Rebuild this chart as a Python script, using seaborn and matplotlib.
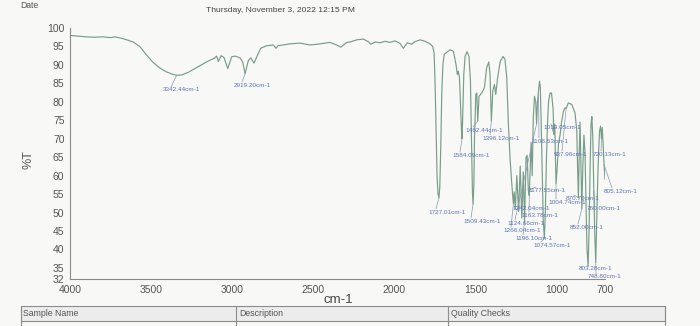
import matplotlib
matplotlib.use("Agg")
import matplotlib.pyplot as plt
from matplotlib.patches import Rectangle
from matplotlib.lines import Line2D
import pandas as pd
import seaborn as sns

# ---------------- data ----------------
wavenumber = [
    4000, 3950, 3900, 3850, 3800, 3750, 3720, 3690, 3650, 3610, 3570, 3530,
    3490, 3450, 3410, 3370, 3342, 3310, 3270, 3230, 3190, 3150, 3110, 3095,
    3085, 3068, 3050, 3027, 3003, 2982, 2951, 2935, 2920, 2900, 2885, 2865,
    2845, 2824, 2787, 2746, 2729, 2717, 2643, 2581, 2519, 2458, 2396, 2355,
    2330, 2293, 2273, 2231, 2191, 2160, 2145, 2118, 2088, 2057, 2026, 1995,
    1964, 1944, 1919, 1893, 1872, 1841, 1810, 1779, 1763, 1754, 1748, 1742,
    1736, 1730, 1724, 1719, 1713, 1707, 1700, 1692, 1682, 1656, 1635, 1619,
    1611, 1605, 1598, 1592, 1585, 1582, 1579, 1574, 1571, 1563, 1551, 1539,
    1530, 1524, 1518, 1514, 1509, 1505, 1497, 1491, 1485, 1477, 1460, 1444,
    1430, 1417, 1409, 1401, 1392, 1382, 1374, 1362, 1346, 1329, 1317, 1306,
    1296, 1286, 1275, 1265, 1260, 1253, 1244, 1233, 1223, 1213, 1204, 1196,
    1187, 1180, 1173, 1167, 1161, 1156, 1149, 1142, 1135, 1127, 1122, 1116,
    1110, 1104, 1099, 1094, 1087, 1081, 1074, 1068, 1061, 1054, 1048, 1039,
    1030, 1020, 1016, 1010, 1002, 995, 987, 977, 967, 956, 946, 940, 926,
    905, 885, 874, 869, 864, 860, 854, 849, 843, 837, 830, 823, 817, 811,
    804, 798, 792, 786, 781, 775, 769, 763, 757, 751, 743, 734, 727, 722,
    717, 712, 706, 700,
]
transmittance = [
    98.0, 97.8, 97.6, 97.5, 97.6, 97.4, 97.6, 97.3, 96.8, 96.2, 95.0, 92.8,
    90.8, 89.3, 88.2, 87.5, 87.2, 87.3, 88.0, 89.0, 90.0, 91.0, 91.8, 92.4,
    90.9, 92.5, 92.0, 89.0, 92.2, 92.4, 91.9, 90.8, 87.6, 91.2, 91.9, 90.5,
    92.5, 94.5, 95.2, 95.4, 94.5, 95.2, 95.7, 95.9, 95.4, 95.7, 96.1, 95.4,
    94.8, 96.1, 96.2, 96.8, 97.0, 96.3, 95.6, 96.2, 96.0, 96.4, 96.1, 96.5,
    95.8, 94.5, 96.0, 95.6, 96.3, 96.8, 96.4, 95.7, 95.0, 93.2, 85.0, 72.0,
    60.0, 55.0, 54.0, 57.0, 68.0, 82.0, 90.0, 92.8, 93.2, 94.1, 93.7, 90.1,
    87.4, 88.3, 86.6, 80.2, 72.0, 70.0, 74.0, 82.0, 87.4, 92.3, 93.6, 92.3,
    85.6, 70.0, 56.0, 52.3, 57.0, 70.0, 82.0, 82.4, 74.8, 81.5, 82.4, 83.8,
    89.2, 90.8, 87.4, 74.8, 82.9, 84.7, 82.0, 86.6, 91.0, 92.3, 91.5, 86.6,
    73.9, 65.0, 57.8, 52.4, 55.6, 51.0, 60.0, 50.3, 62.6, 48.5, 61.0, 47.6,
    65.0, 65.5, 56.0, 54.6, 62.0, 69.0, 60.0, 76.0, 81.5, 80.0, 74.0, 80.0,
    83.0, 85.6, 84.0, 75.0, 60.0, 48.0, 43.0, 50.0, 65.0, 75.0, 80.0, 82.4,
    82.4, 78.0, 71.2, 74.0, 57.8, 62.0, 68.5, 71.0, 74.8, 77.5, 78.4, 78.2,
    79.7, 79.3, 77.0, 72.1, 62.0, 54.0, 64.0, 74.5, 64.0, 51.0, 62.0, 71.0,
    66.0, 52.0, 40.0, 35.5, 46.0, 62.0, 74.0, 76.0, 70.0, 56.0, 44.0, 36.5,
    48.0, 62.0, 72.0, 73.4, 70.0, 73.0, 69.0, 63.0, 59.0,
]

peak_labels = [
    "3342.44cm-1", "2919.20cm-1", "1727.01cm-1", "1584.09cm-1", "1509.43cm-1",
    "1124.66cm-1", "1462.44cm-1", "1396.12cm-1", "1266.04cm-1", "1196.10cm-1",
    "1074.57cm-1", "1177.55cm-1", "1242.04cm-1", "1163.78cm-1", "1004.74cm-1",
    "870.70cm-1", "760.00cm-1", "852.00cm-1", "805.12cm-1", "803.28cm-1",
    "748.80cm-1", "1019.05cm-1", "1106.53cm-1", "937.96cm-1", "720.13cm-1",
]
peak_wn = [3342, 2920, 1724, 1582, 1514, 1122, 1485, 1401, 1265, 1196, 1074,
           1173, 1233, 1167, 1002, 864, 769, 843, 706, 804, 757, 1016, 1110,
           940, 722]
peak_T = [87.2, 87.6, 54.0, 70.0, 52.3, 74.0, 74.8, 74.8, 52.4, 47.6, 43.0,
          56.0, 50.3, 54.6, 57.8, 54.0, 56.0, 51.0, 63.0, 35.5, 36.5, 71.2,
          83.0, 78.2, 70.0]

x_ticks = [4000, 3500, 3000, 2500, 2000, 1500, 1000, 700]
y_ticks = [32, 35, 40, 45, 50, 55, 60, 65, 70, 75, 80, 85, 90, 95, 100]

title_text = "Thursday, November 3, 2022 12:15 PM"
table_headers = ["Sample Name", "Description", "Quality Checks"]

# ---------------- layout ----------------
W, H = 700, 326
AX_L, AX_R, AX_T, AX_B = 70, 605, 28, 279

# label text anchors (pixel: left x, centre y)
label_px = [
    (163, 90), (234, 85), (428, 212), (452, 155), (463, 221),
    (507, 223), (465, 130), (482, 138), (503, 230), (515, 238),
    (533, 245), (528, 190), (512, 208), (521, 215), (548, 202),
    (566, 198), (587, 208), (570, 227), (604, 191), (579, 269),
    (588, 277), (543, 127), (531, 141), (554, 154), (593, 154),
]


def px2wn(x):
    return 4000 - (x - AX_L) * (4000 - 700) / (AX_R - AX_L)


def px2T(y):
    return 100 - (y - AX_T) * (100 - 32) / (AX_B - AX_T)


def fx(x):
    return x / W


def fy(y):
    return 1 - y / H


sns.set_theme(style="white")
plt.rcParams["font.family"] = ["Liberation Sans", "DejaVu Sans"]

bg = "#f8f8f6"
fig = plt.figure(figsize=(7, 3.26), dpi=100, facecolor=bg)
ax = fig.add_axes([fx(AX_L), fy(AX_B), (AX_R - AX_L) / W, (AX_B - AX_T) / H])
ax.set_facecolor(bg)

df = pd.DataFrame({"wn": wavenumber, "T": transmittance})
sns.lineplot(data=df, x="wn", y="T", ax=ax, color="#789d88", lw=0.85,
             estimator=None, sort=False)

ax.set_xlim(4000, 700)
ax.set_ylim(32, 100)
ax.set_xticks(x_ticks)
ax.set_xticklabels([str(t) for t in x_ticks])
ax.set_yticks(y_ticks)
ax.set_yticklabels([str(t) for t in y_ticks])
ax.set_xlabel("")
ax.set_ylabel("")
for s in ["top", "right"]:
    ax.spines[s].set_visible(False)
for s in ["left", "bottom"]:
    ax.spines[s].set_color("#8a8a8a")
    ax.spines[s].set_linewidth(0.8)
ax.tick_params(axis="both", direction="out", length=3, width=0.6,
               colors="#8a8a8a", labelcolor="#555555", labelsize=7.5, pad=1)

# peak annotations
lab_color = "#5b74b8"
for lab, pw, pt, (lx, ly) in zip(peak_labels, peak_wn, peak_T, label_px):
    tx, ty = px2wn(lx), px2T(ly)
    ex, ey = px2wn(lx + 8), px2T(ly - 3)
    ax.add_line(Line2D([pw, ex], [pt, ey], color="#8996b5", lw=0.5,
                       clip_on=False))
    ax.text(tx, ty, lab, fontsize=4.6, color=lab_color, ha="left",
            va="center", clip_on=False)

# header texts
fig.text(fx(20), fy(6), "Date", fontsize=6.2, color="#555555",
         ha="left", va="center")
fig.text(fx(281), fy(10), title_text, fontsize=6.1, color="#444444",
         ha="center", va="center")
fig.text(fx(28), fy(160), "%T", fontsize=9, color="#555555",
         rotation=90, ha="center", va="center")
fig.text(fx(338), fy(300), "cm-1", fontsize=9.5, color="#444444",
         ha="center", va="center")

# bottom table
tcol = "#8c8c8c"
fig.patches.append(Rectangle((fx(21), fy(321)), fx(665) - fx(21),
                             fy(306) - fy(321), transform=fig.transFigure,
                             facecolor="#ececec", edgecolor=tcol, lw=0.8))
for xline in [21, 236, 448, 665]:
    fig.add_artist(Line2D([fx(xline), fx(xline)], [fy(306), fy(330)],
                          transform=fig.transFigure, color=tcol, lw=0.8))
for txt, xl in zip(table_headers, [23, 239, 451]):
    fig.text(fx(xl), fy(313.5), txt, fontsize=6.3, color="#555555",
             ha="left", va="center")

fig.savefig("out.png", dpi=100, facecolor=bg)
